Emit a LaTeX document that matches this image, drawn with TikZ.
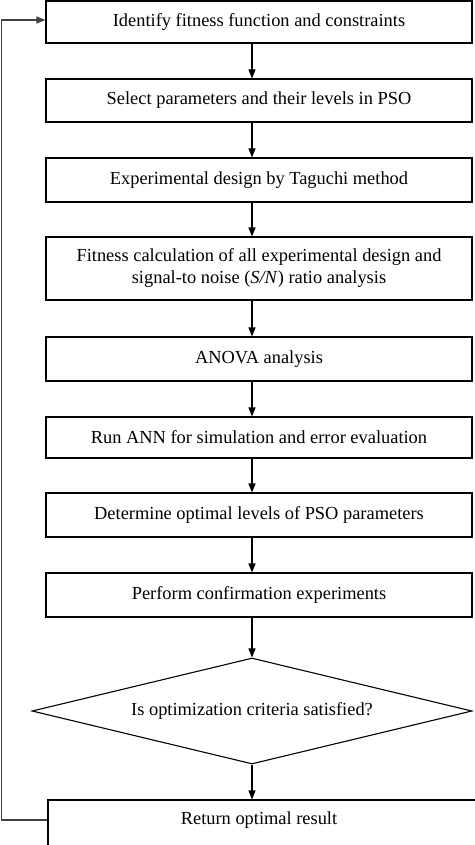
\documentclass[tikz,border=0pt]{standalone}
\usepackage{fontspec}
\setmainfont{Liberation Serif}
\usetikzlibrary{shapes.geometric,arrows.meta}
\begin{document}
\begin{tikzpicture}[x=1pt,y=-1pt,
  stepbox/.style={draw=black,line width=1.1pt,minimum width=426pt,inner sep=0pt,align=center,
    font=\fontsize{18.4}{22}\selectfont},
  decbox/.style={draw=black,line width=1.1pt,shape=diamond,aspect=4.15,minimum width=440pt,
    minimum height=106pt,inner sep=0pt,font=\fontsize{18.4}{22}\selectfont},
  arr/.style={line width=1.1pt,-{Triangle[width=7pt,length=9pt]}}]
\useasboundingbox (0,0) rectangle (474,845);
\node[stepbox,minimum height=42pt] (b1) at (259,22) {Identify fitness function and constraints};
\node[stepbox,minimum height=43pt] (b2) at (259,100.5) {Select parameters and their levels in PSO};
\node[stepbox,minimum height=44pt] (b3) at (259,180) {Experimental design by Taguchi method};
\node[stepbox,minimum height=63pt] (b4) at (259,268.5) {Fitness calculation of all experimental design and\\signal-to noise (\textit{S/N}) ratio analysis};
\node[stepbox,minimum height=44pt] (b5) at (259,359) {ANOVA analysis};
\node[stepbox,minimum height=41pt] (b6) at (259,437.5) {Run ANN for simulation and error evaluation};
\node[stepbox,minimum height=44pt] (b7) at (259,515) {Determine optimal levels of PSO parameters};
\node[stepbox,minimum height=44pt] (b8) at (259,595) {Perform confirmation experiments};
\node[decbox] (d1) at (252,711) {Is optimization criteria satisfied?};
\node[stepbox,minimum width=428pt,minimum height=46pt] (b9) at (262,823) {};
\node[font=\fontsize{18.4}{22}\selectfont] (t9) at (259,820) {Return optimal result};
\coordinate (ax) at (252,0);
\draw[arr] (b1.south -| ax) -- (b2.north -| ax);
\draw[arr] (b2.south -| ax) -- (b3.north -| ax);
\draw[arr] (b3.south -| ax) -- (b4.north -| ax);
\draw[arr] (b4.south -| ax) -- (b5.north -| ax);
\draw[arr] (b5.south -| ax) -- (b6.north -| ax);
\draw[arr] (b6.south -| ax) -- (b7.north -| ax);
\draw[arr] (b7.south -| ax) -- (b8.north -| ax);
\draw[arr] (b8.south -| ax) -- (d1.north);
\draw[arr] (d1.south) -- (b9.north -| ax);
\draw[arr,draw=black!75,line width=1.3pt] ([yshift=3pt]b9.west) -- ++(-46,0) |- ([yshift=2pt]b1.west);
\end{tikzpicture}
\end{document}
